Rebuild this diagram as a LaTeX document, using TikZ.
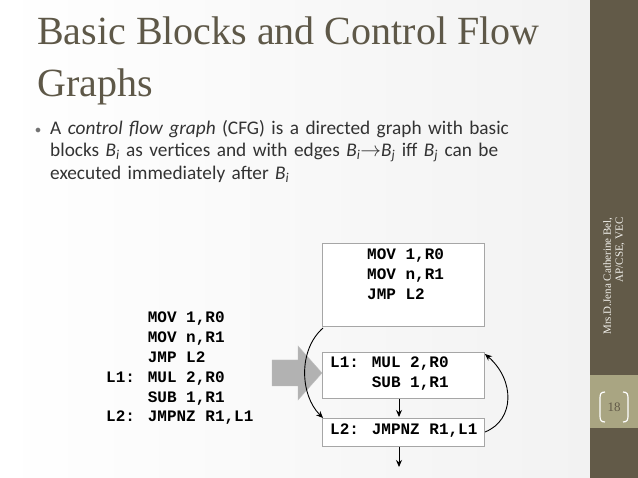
\documentclass[tikz,border=0pt]{standalone}
\usepackage{fontspec}
\setmainfont{Liberation Serif}
\newfontfamily\bodyf{Carlito}
\newfontfamily\codef{Liberation Mono}
\usetikzlibrary{arrows.meta}
\definecolor{side}{HTML}{625A48}
\definecolor{band}{HTML}{A9A582}
\definecolor{ttl}{HTML}{5E5848}
\definecolor{bgl}{HTML}{F2F2F2}
\newcommand{\Bs}[1]{\textit{B}\textsubscript{\textit{#1}}}
\tikzset{
 code/.style={font=\codef\bfseries\fontsize{16}{19.8}\selectfont, align=left, anchor=north west, inner sep=0pt},
 blk/.style={draw=gray!70, line width=0.6pt},
 flow/.style={-{Stealth[length=7pt,width=6pt]}, line width=0.9pt},
}
\begin{document}
\begin{tikzpicture}[x=1pt,y=-1pt]
\useasboundingbox (0,0) rectangle (638,478);
\shade[left color=white, right color=bgl] (0,0) rectangle (590,478);
\fill[side] (590,0) rectangle (638,478);
\fill[band] (590,375) rectangle (638,428);
\node[text=white!85!band, font=\fontsize{11}{12}\selectfont, rotate=90, align=right, anchor=east] (auth) at (614,214) {Mrs.D.Jena Catherine Bel,\\AP/CSE, VEC};
\node[font=\fontsize{13}{13}\selectfont, text=side] (pg) at (614,407) {18};
\draw[white, line width=1.2pt] (605,392) .. controls (601,392) and (600,394) .. (600,398) -- (600,416) .. controls (600,420) and (601,422) .. (605,422);
\draw[white, line width=1.2pt] (623,392) .. controls (627,392) and (628,394) .. (628,398) -- (628,416) .. controls (628,420) and (627,422) .. (623,422);
\node[anchor=north west, text=ttl, font=\fontsize{40}{52}\selectfont, align=left, inner sep=0pt] (title) at (37,17) {Basic Blocks and Control Flow\\Graphs};
\node[anchor=north west, font=\bodyf\fontsize{19.3}{22.5}\selectfont, text=black!80, align=left, inner sep=0pt, text width=520pt] (txt) at (50,120)
 {A \emph{control flow graph} (CFG) is a directed graph with basic\\blocks \Bs{i} as vertices and with edges \Bs{i}$\rightarrow$\Bs{j} iff \Bs{j} can be\\executed immediately after \Bs{i}};
\node[text=black!55, font=\fontsize{13}{13}\selectfont] (bul) at (38,131) {$\bullet$};
\node[code] (left) at (106,312) {\phantom{L1: }MOV 1,R0\\\phantom{L1: }MOV n,R1\\\phantom{L1: }JMP L2\\L1: MUL 2,R0\\\phantom{L1: }SUB 1,R1\\L2: JMPNZ R1,L1};
\fill[gray!60!white, draw=gray!50] (272,360) -- (298,360) -- (298,346) -- (322,373) -- (298,400) -- (298,386) -- (272,386) -- cycle;
\draw[blk,fill=white] (322,243) rectangle (484,326);
\node[code] (b1) at (367,249) {MOV 1,R0\\MOV n,R1\\JMP L2};
\draw[blk,fill=white] (322,352) rectangle (484,398);
\node[code] (b2) at (330,357) {L1: MUL 2,R0\\\phantom{L1: }SUB 1,R1};
\draw[blk,fill=white] (322,418) rectangle (484,446);
\node[code] (b3) at (330,424) {L2: JMPNZ R1,L1};
\coordinate (a1) at (399,399);
\coordinate (a2) at (399,417);
\coordinate (a3) at (399,447);
\coordinate (a4) at (399,467);
\draw[flow] (a1) -- (a2);
\draw[flow] (a3) -- (a4);
\coordinate (c1) at (323,328);
\coordinate (c2) at (323,418);
\draw[flow] (c1) .. controls (298,350) and (300,395) .. (c2);
\coordinate (d1) at (485,432);
\coordinate (d2) at (485,354);
\draw[flow] (d1) .. controls (515,420) and (515,380) .. (d2);
\end{tikzpicture}
\end{document}
